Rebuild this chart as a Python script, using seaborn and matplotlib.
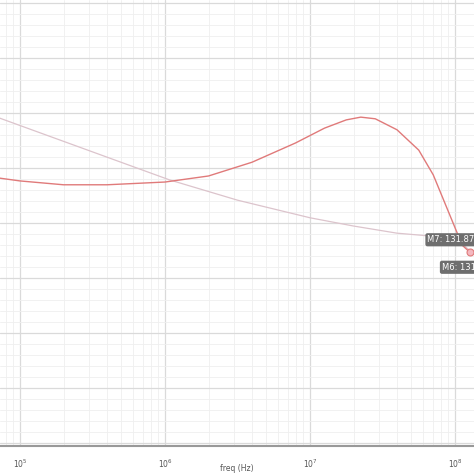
import numpy as np
import matplotlib
matplotlib.use("Agg")
import matplotlib.pyplot as plt
import seaborn as sns
import pandas as pd
from matplotlib.ticker import LogLocator, MultipleLocator, NullFormatter

sns.set_style("white")

red_logf = [4.862, 5.0, 5.3, 5.6, 6.0, 6.3, 6.6, 6.9, 7.1, 7.25, 7.35, 7.45, 7.6, 7.75, 7.85, 7.95, 8.05, 8.1]
red_val = [4.82, 4.77, 4.70, 4.70, 4.75, 4.86, 5.11, 5.46, 5.73, 5.88, 5.93, 5.90, 5.70, 5.33, 4.88, 4.24, 3.60, 3.48]
pink_logf = [4.862, 6.03, 6.5, 7.0, 7.3, 7.6, 8.0, 8.1]
pink_val = [5.91, 4.79, 4.42, 4.10, 3.95, 3.82, 3.73, 3.51]

red = pd.DataFrame({"f": 10 ** np.array(red_logf), "v": red_val})
pink = pd.DataFrame({"f": 10 ** np.array(pink_logf), "v": pink_val})

fig = plt.figure(figsize=(4.74, 4.74), dpi=100)
ax = fig.add_axes([0, 28 / 474, 1, 446 / 474])
sns.lineplot(data=pink, x="f", y="v", ax=ax, color="#dcc4cc", lw=0.9)
sns.lineplot(data=red, x="f", y="v", ax=ax, color="#e07a7a", lw=1.0)
ax.plot([red.f.iloc[-1]], [red.v.iloc[-1]], marker="o", ms=5, mfc="#f4b8c0", mec="#e07a7a", mew=0.8)
ax.set_xscale("log")
ax.set_xlim(10 ** 4.862, 10 ** 8.131)
ax.set_ylim(-0.05, 8.06)
ax.xaxis.set_major_locator(LogLocator(base=10))
ax.xaxis.set_minor_locator(LogLocator(base=10, subs=np.arange(2, 10)))
ax.xaxis.set_minor_formatter(NullFormatter())
ax.yaxis.set_major_locator(MultipleLocator(1))
ax.yaxis.set_minor_locator(MultipleLocator(0.2))
ax.set_yticklabels([])
ax.tick_params(axis="y", which="both", length=0)
ax.tick_params(axis="x", which="both", direction="out", length=2, labelsize=5.5, colors="#555555", pad=6)
ax.grid(which="major", color="#dadada", lw=0.9)
ax.grid(which="minor", color="#efefef", lw=0.6)
for s in ["top", "left", "right"]:
    ax.spines[s].set_visible(False)
ax.spines["bottom"].set_color("#999999")
ax.spines["bottom"].set_linewidth(1.5)
ax.set_xlabel("freq (Hz)", fontsize=5.5, color="#555555", labelpad=-4)
ax.set_ylabel("")
ax.text(10 ** 7.81, 3.7, "M7: 131.874M", fontsize=6, color="white", va="center",
        bbox=dict(boxstyle="round,pad=0.25", fc="#6e6e6e", ec="none"))
ax.text(10 ** 7.91, 3.2, "M6: 131.9", fontsize=6, color="white", va="center",
        bbox=dict(boxstyle="round,pad=0.25", fc="#6e6e6e", ec="none"))
fig.savefig("out.png", dpi=100)
